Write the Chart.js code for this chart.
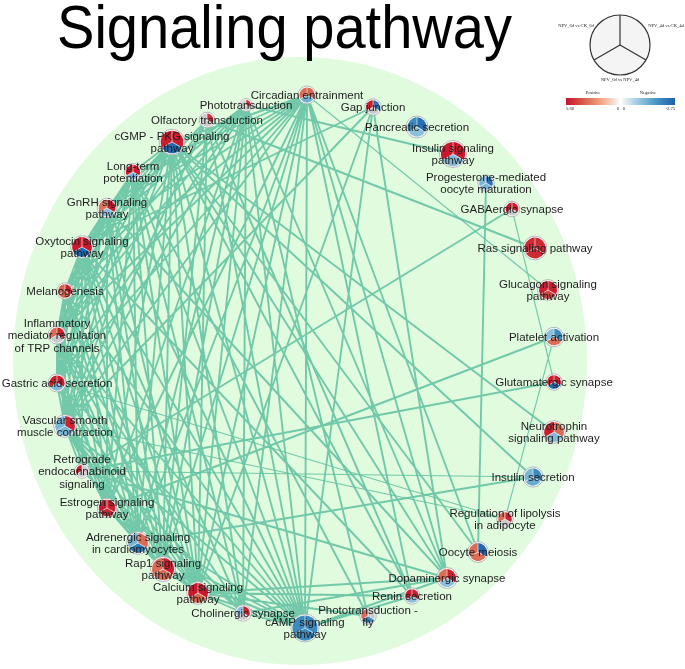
<!DOCTYPE html>
<html>
<head>
<meta charset="utf-8">
<title>Signaling pathway</title>
<script src="https://cdn.jsdelivr.net/npm/chart.js"></script>
<style>
  html, body { margin: 0; padding: 0; background: #fff; }
  canvas { display: block; }
</style>
</head>
<body>
<canvas id="network" width="685" height="669"></canvas>
<script>
// pathways (node labels, line breaks as in the figure)
const pathways = [
  "Circadian entrainment", "Phototransduction", "Olfactory transduction",
  "cGMP - PKG signaling\npathway", "Long-term\npotentiation", "GnRH signaling\npathway",
  "Oxytocin signaling\npathway", "Melanogenesis", "Inflammatory\nmediator regulation\nof TRP channels",
  "Gastric acid secretion", "Vascular smooth\nmuscle contraction", "Retrograde\nendocannabinoid\nsignaling",
  "Estrogen signaling\npathway", "Adrenergic signaling\nin cardiomyocytes", "Rap1 signaling\npathway",
  "Calcium signaling\npathway", "Cholinergic synapse", "cAMP signaling\npathway",
  "Phototransduction -\nfly", "Renin secretion", "Dopaminergic synapse",
  "Oocyte meiosis", "Regulation of lipolysis\nin adipocyte", "Insulin secretion",
  "Neurotrophin\nsignaling pathway", "Glutamatergic synapse", "Platelet activation",
  "Glucagon signaling\npathway", "Ras signaling pathway", "GABAergic synapse",
  "Progesterone-mediated\noocyte maturation", "Insulin signaling\npathway", "Pancreatic secretion",
  "Gap junction"
];

// circular layout coordinates (layout units, y up)
const layoutX = [7, -54, -93, -128, -167, -193, -218, -235, -243, -243, -235, -218, -193, -162, -137, -102, -57,
  5, 68, 112, 147, 178, 205, 233, 254, 254, 254, 248, 235, 212, 186, 153, 117, 73];
const layoutY = [266, 256, 241, 219, 189, 153, 114, 70, 26, -22, -65, -110, -147, -182, -208, -232, -252,
  -267, -255, -235, -217, -191, -158, -116, -71, -21, 24, 71, 113, 152, 178, 207, 234, 254];

// genes per pathway (node size)
const geneCount = [12, 6, 9, 24, 11, 14, 19, 10, 12, 12, 19, 8, 14, 19, 23, 19, 10,
  29, 10, 10, 16, 16, 10, 15, 19, 10, 14, 16, 21, 9, 10, 27, 18, 10];

// fold-change scores for the three comparisons (null = no value, grey)
const comparisons = ["NPV_4d vs CK_4d", "NPV_6d vs CK_6d", "NPV_6d vs NPV_4d"];
const fc4dVsCK = [3.6, 4.8, 4.8, 5.3, 5.3, 5.3, 5.4, 5.2, 5.2, 5.3, 5.2, null, 5.3, 3.4, 5.2, 5.4, 5.2,
  -2.0, null, 5.3, 5.2, -2.6, 5.2, -2.0, 3.4, 5.3, -2.0, 5.3, 5.0, 5.3, -2.4, 5.4, -2.5, -2.4];
const fc6dVsCK = [3.4, null, null, 5.3, 5.3, 3.2, 5.4, 3.6, 3.4, 5.3, -1.2, 5.2, 5.3, -1.2, 3.4, 5.4, -1.0,
  -2.0, 3.4, 5.3, 3.4, 3.4, 3.4, -1.2, 5.3, 5.3, -1.0, 5.3, 5.0, 5.3, -1.2, 5.4, -2.0, 5.3];
const fc6dVs4d = [-1.3, null, null, -2.6, -1.2, -1.0, -2.6, 3.6, null, -1.1, -1.2, null, 5.1, -2.3, 3.4, 3.6, null,
  -2.0, -2.0, -1.0, -1.0, 3.4, null, -1.4, -1.1, -2.5, 3.4, 4.4, 5.0, null, -1.2, -1.1, -1.0, null];

const colorMax = 5.60;
const colorMin = -2.75;

// shared-gene links between pathways (index pairs)
const links = [
  [0,3],[0,4],[0,5],[0,6],[0,7],[0,8],[0,9],[0,10],[0,12],[0,13],[0,14],[0,15],[0,16],[0,17],[0,19],[0,20],[0,21],
  [1,5],[1,6],[1,7],[1,8],[1,9],[1,10],[1,12],[1,13],[1,14],[1,15],[1,16],[1,17],[1,18],[1,20],[1,31],
  [2,6],[2,8],[2,10],[2,14],[2,15],[2,17],[2,19],[2,28],
  [3,4],[3,5],[3,6],[3,7],[3,8],[3,9],[3,10],[3,12],[3,13],[3,14],[3,15],[3,16],[3,17],[3,19],[3,20],[3,21],[3,23],[3,24],
  [4,6],[4,7],[4,8],[4,9],[4,10],[4,12],[4,13],[4,14],[4,15],[4,16],[4,17],[4,18],
  [5,6],[5,7],[5,8],[5,9],[5,10],[5,12],[5,13],[5,14],[5,15],[5,17],[5,20],
  [6,7],[6,8],[6,9],[6,10],[6,11],[6,12],[6,13],[6,14],[6,15],[6,16],[6,17],[6,19],
  [7,8],[7,9],[7,10],[7,12],[7,13],[7,14],[7,15],[7,17],
  [8,9],[8,10],[8,11],[8,12],[8,13],[8,14],[8,15],[8,16],[8,17],
  [9,10],[9,12],[9,13],[9,15],[9,17],
  [10,11],[10,12],[10,13],[10,14],[10,15],[10,16],[10,17],
  [11,16],[11,20],[11,25],[11,29],
  [12,13],[12,14],[12,15],[12,17],[12,26],
  [13,14],[13,15],[13,17],[13,23],
  [14,15],[14,17],
  [15,16],[15,17],[15,18],[15,19],[15,20],
  [16,17],[16,20],
  [17,19],[17,20],
  [21,30],
  [33,6],[33,10],[33,15],[33,17],[33,20]
];
const weakLinks = [[0,27],[11,23],[9,22],[10,22],[22,26],[25,29]];

// ---- colour scale (diverging, red positive / blue negative)
const posStops = [[247,247,247],[244,165,130],[214,96,77],[200,16,40]];
const negStops = [[247,247,247],[146,197,222],[67,147,195],[30,96,172]];

function fcColor(v) {
  if (v === null) return "rgb(202,202,204)";
  const stops = v >= 0 ? posStops : negStops;
  const t = Math.min(1, v >= 0 ? v / colorMax : v / colorMin);
  const seg = t * (stops.length - 1);
  const i = Math.min(stops.length - 2, Math.floor(seg));
  const f = seg - i;
  const c = stops[i].map((a, k) => Math.round(a + (stops[i + 1][k] - a) * f));
  return "rgb(" + c.join(",") + ")";
}

// edges as line datasets, broken between pairs
function edgeData(pairs) {
  const pts = [];
  pairs.forEach(([a, b]) => {
    pts.push({x: layoutX[a], y: layoutY[a]});
    pts.push({x: layoutX[b], y: layoutY[b]});
    pts.push({x: layoutX[b], y: null});
  });
  return pts;
}
const nodePoints = pathways.map((p, i) => ({x: layoutX[i], y: layoutY[i]}));

// sectors: top-right, bottom, top-left
const sectors = [
  {from: -90, to: 30, values: fc4dVsCK},
  {from: 30, to: 150, values: fc6dVs4d},
  {from: 150, to: 270, values: fc6dVsCK}
];
const rad = d => d * Math.PI / 180;

const networkPlugin = {
  id: "network",
  beforeDatasetsDraw(chart) {
    const {ctx, scales: {x, y}} = chart;
    const cx = x.getPixelForValue(0), cy = y.getPixelForValue(0);
    ctx.save();
    ctx.fillStyle = "rgb(225,251,222)";
    ctx.beginPath();
    ctx.ellipse(cx, cy, x.getPixelForValue(287) - cx, cy - y.getPixelForValue(304), 0, 0, Math.PI * 2);
    ctx.fill();
    ctx.restore();
  },
  afterDatasetsDraw(chart) {
    const ctx = chart.ctx;
    const meta = chart.getDatasetMeta(2);
    ctx.save();
    meta.data.forEach((pt, i) => {
      const r = Math.sqrt(geneCount[i]) * 2.6;
      ctx.beginPath();
      ctx.arc(pt.x, pt.y, r, 0, Math.PI * 2);
      ctx.fillStyle = "rgba(255,255,255,0.9)";
      ctx.fill();
      ctx.lineWidth = 1;
      ctx.strokeStyle = "rgba(175,175,180,0.9)";
      ctx.stroke();
      const pr = r - 1.4;
      sectors.forEach(s => {
        ctx.beginPath();
        ctx.moveTo(pt.x, pt.y);
        ctx.arc(pt.x, pt.y, pr, rad(s.from), rad(s.to));
        ctx.closePath();
        ctx.fillStyle = fcColor(s.values[i]);
        ctx.fill();
      });
      ctx.strokeStyle = "rgba(255,255,255,0.85)";
      ctx.lineWidth = 0.7;
      sectors.forEach(s => {
        ctx.beginPath();
        ctx.moveTo(pt.x, pt.y);
        ctx.lineTo(pt.x + pr * Math.cos(rad(s.from)), pt.y + pr * Math.sin(rad(s.from)));
        ctx.stroke();
      });
    });
    // labels on top of the nodes
    ctx.font = '11.5px "Liberation Sans", Arial, sans-serif';
    ctx.fillStyle = "#1e1e1e";
    ctx.textAlign = "center";
    ctx.textBaseline = "middle";
    meta.data.forEach((pt, i) => {
      const lines = pathways[i].split("\n");
      const lh = 12.6;
      lines.forEach((ln, k) => {
        ctx.fillText(ln, pt.x, pt.y + (k - (lines.length - 1) / 2) * lh + 1);
      });
    });
    ctx.restore();
  },
  afterDraw(chart) {
    const ctx = chart.ctx;
    ctx.save();
    // title
    ctx.fillStyle = "#000";
    ctx.font = '62px "Liberation Sans", Arial, sans-serif';
    ctx.textAlign = "left";
    ctx.textBaseline = "alphabetic";
    ctx.fillText("Signaling pathway", 57, 48, 455);

    // legend pie
    const lx = 620, ly = 45, lr = 30;
    ctx.beginPath();
    ctx.arc(lx, ly, lr, 0, Math.PI * 2);
    ctx.fillStyle = "#f4f4f4";
    ctx.fill();
    ctx.strokeStyle = "#333";
    ctx.lineWidth = 1.2;
    ctx.stroke();
    sectors.forEach(s => {
      ctx.beginPath();
      ctx.moveTo(lx, ly);
      ctx.lineTo(lx + lr * Math.cos(rad(s.from)), ly + lr * Math.sin(rad(s.from)));
      ctx.stroke();
    });
    ctx.font = '4.6px "Liberation Serif", "Times New Roman", serif';
    ctx.fillStyle = "#222";
    ctx.textAlign = "center";
    ctx.textBaseline = "middle";
    ctx.fillText(comparisons[1], 576, 26);
    ctx.fillText(comparisons[0], 666, 26);
    ctx.fillText(comparisons[2], 620, 80);

    // colour bars
    const barY = 98, barH = 7;
    const posBar = ctx.createLinearGradient(566, 0, 619, 0);
    const negBar = ctx.createLinearGradient(622, 0, 675, 0);
    for (let k = 0; k <= 10; k++) {
      posBar.addColorStop(k / 10, fcColor(colorMax * (1 - k / 10)));
      negBar.addColorStop(k / 10, fcColor(colorMin * k / 10));
    }
    ctx.fillStyle = posBar;
    ctx.fillRect(566, barY, 53, barH);
    ctx.fillStyle = negBar;
    ctx.fillRect(622, barY, 53, barH);
    ctx.fillStyle = "#222";
    ctx.fillText("Positive", 593, 93);
    ctx.fillText("Negative", 648, 93);
    ctx.textAlign = "left";
    ctx.fillText(colorMax.toFixed(2), 566, 109);
    ctx.fillText("0", 623, 109);
    ctx.textAlign = "right";
    ctx.fillText("0", 619, 109);
    ctx.fillText(colorMin.toFixed(2), 675, 109);
    ctx.restore();
  }
};

new Chart(document.getElementById("network"), {
  type: "scatter",
  data: {
    datasets: [
      {
        label: "links",
        data: edgeData(links),
        showLine: true,
        spanGaps: false,
        borderColor: "rgba(94,192,160,0.85)",
        borderWidth: 1.9,
        pointRadius: 0,
        pointHoverRadius: 0
      },
      {
        label: "weak links",
        data: edgeData(weakLinks),
        showLine: true,
        spanGaps: false,
        borderColor: "rgba(94,192,160,0.85)",
        borderWidth: 1.1,
        pointRadius: 0,
        pointHoverRadius: 0
      },
      {
        label: "pathways",
        data: nodePoints,
        pointRadius: 0,
        pointHoverRadius: 0
      }
    ]
  },
  options: {
    responsive: false,
    animation: false,
    layout: { padding: 0 },
    scales: {
      x: { type: "linear", min: -300, max: 385, display: false },
      y: { type: "linear", min: -308, max: 361, display: false }
    },
    plugins: {
      legend: { display: false },
      tooltip: { enabled: false },
      title: { display: false }
    }
  },
  plugins: [networkPlugin]
});
</script>
</body>
</html>
